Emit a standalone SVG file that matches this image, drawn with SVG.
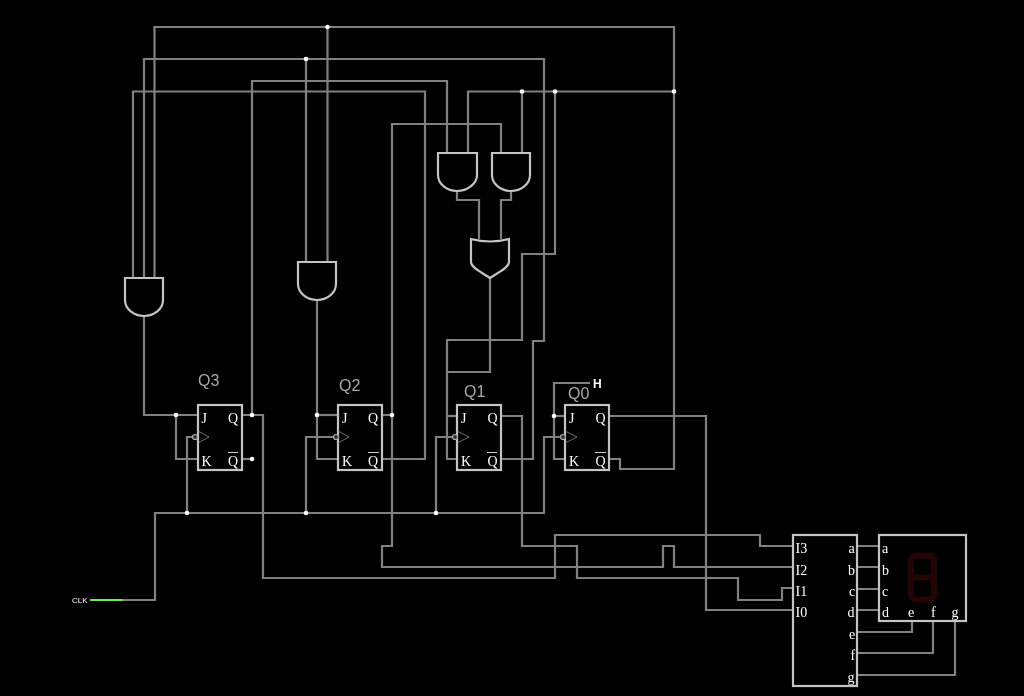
<svg xmlns="http://www.w3.org/2000/svg" width="1024" height="696" viewBox="0 0 1024 696">
<defs><filter id="n" filterUnits="userSpaceOnUse" x="0" y="0" width="1024" height="696" color-interpolation-filters="sRGB"><feOffset dx="0" dy="0"/></filter></defs>
<style>
.w{fill:none;stroke:#808080;stroke-width:2.2}
.b{fill:none;stroke:#c4c4c4;stroke-width:2.2}
.clk{fill:none;stroke:#8a8a8a;stroke-width:.8}
.bub{fill:#333;stroke:#a8a8a8;stroke-width:1.2}
.bar{fill:none;stroke:#d0d0d0;stroke-width:1}
.d{fill:#fff}
.t{font-family:"Liberation Serif",serif;font-size:14px;fill:#fff}
.l{font-family:"Liberation Sans",sans-serif;font-size:16px;fill:#a8a8a8}
.s{font-family:"Liberation Sans",sans-serif;fill:#fff}
.f{filter:url(#n)}
.seg{fill:none;stroke:#240505;stroke-width:6;stroke-linejoin:round}
</style>
<rect width="1024" height="696" fill="#000"/>
<g id="connectors">
<path class="w" d="M154.500 277V27H674V469H620V459H609"/>
<path class="w" d="M327.500 262V27"/>
<path class="w" d="M144 277V59H544V341H533V459H501"/>
<path class="w" d="M306 262V59"/>
<path class="w" d="M241 415H263V578H555V535H760V546H793"/>
<path class="w" d="M252 415V81H447V153"/>
<path class="w" d="M241 459H252"/>
<path class="w" d="M133 277V91.500H425V459H382"/>
<path class="w" d="M468 153V91.500H674"/>
<path class="w" d="M522 153V91.500"/>
<path class="w" d="M555 91.500V254H522V340H447V459H457"/>
<path class="w" d="M447 416H457"/>
<path class="w" d="M490 278V372H447"/>
<path class="w" d="M382 415H392V546H382V567H663V546H674V567H793"/>
<path class="w" d="M392 415V124H501V153"/>
<path class="w" d="M501 416H522V546H577V578H738V600H782V588H793"/>
<path class="w" d="M609 416H706V610H793"/>
<path class="w" d="M123 600H155V513H544V437H563"/>
<path class="w" d="M187 513V437H193"/>
<path class="w" d="M306 513V437H334"/>
<path class="w" d="M436 513V437H453"/>
<path class="w" d="M144 316V415H197"/>
<path class="w" d="M176 415V459H197"/>
<path class="w" d="M317 300V459H338"/>
<path class="w" d="M317 415H338"/>
<path class="w" d="M590 383H554V459H565"/>
<path class="w" d="M554 416H565"/>
<path class="w" d="M457 191V200H479V239"/>
<path class="w" d="M511 191V200H501V239"/>
<path class="w" d="M857 546H879M857 567H879M857 589H879M857 610H879"/>
<path class="w" d="M857 632H912V621M857 653H933V621M857 675H955V621"/>
<path d="M90 600H123" fill="none" stroke="#66ee44" stroke-width="2.200"/>
<g class="d">
<circle cx="327.500" cy="27" r="2.300"/><circle cx="306" cy="59" r="2.300"/><circle cx="522" cy="91.500" r="2.300"/><circle cx="555" cy="91.500" r="2.300"/><circle cx="674" cy="91.500" r="2.300"/>
<circle cx="176" cy="415" r="2.300"/><circle cx="252" cy="415" r="2.300"/><circle cx="252" cy="459" r="2.300"/><circle cx="317" cy="415" r="2.300"/><circle cx="392" cy="415" r="2.300"/><circle cx="554" cy="416" r="2.300"/>
<circle cx="187" cy="513" r="2.300"/><circle cx="306" cy="513" r="2.300"/><circle cx="436" cy="513" r="2.300"/>
</g>
</g>
<g id="and3"><path class="b" d="M125 278H163V300C163 309 154 316 144 316C134 316 125 309 125 300Z"/></g>
<g id="and2"><path class="b" d="M298 262H336V284C336 293 327 300 317 300C307 300 298 293 298 284Z"/></g>
<g id="and1a"><path class="b" d="M438 153H477V175C477 184 467 191 457 191C447 191 438 184 438 175Z"/></g>
<g id="and1b"><path class="b" d="M492 153H530V175C530 184 521 191 511 191C501 191 492 184 492 175Z"/></g>
<g id="or1"><path class="b" d="M471 239Q490 244 509 239V262C509 268 497 273 490 278C483 273 471 268 471 262Z"/></g>
<g id="ff3" class="f">
<rect class="b" x="198" y="405" width="44" height="65"/>
<path class="clk" d="M198 431L209 437L198 443"/><circle class="bub" cx="195" cy="437" r="2.500"/>
<text class="t" x="201.500" y="423">J</text><text class="t" x="228" y="423">Q</text><text class="t" x="201.500" y="466">K</text><text class="t" x="228" y="466">Q</text>
<path class="bar" d="M228 452.500H238"/>
<text class="l" x="198" y="386">Q3</text>
</g>
<g id="ff2" class="f">
<rect class="b" x="338" y="405" width="44" height="65"/>
<path class="clk" d="M338 431L349 437L338 443"/><circle class="bub" cx="336" cy="437" r="2.500"/>
<text class="t" x="342" y="423">J</text><text class="t" x="368" y="423">Q</text><text class="t" x="342" y="466">K</text><text class="t" x="368" y="466">Q</text>
<path class="bar" d="M368 452.500H379"/>
<text class="l" x="339" y="391">Q2</text>
</g>
<g id="ff1" class="f">
<rect class="b" x="457" y="405" width="44" height="65"/>
<path class="clk" d="M457 431L469 437L457 443"/><circle class="bub" cx="455" cy="437" r="2.500"/>
<text class="t" x="461" y="423">J</text><text class="t" x="487.500" y="423">Q</text><text class="t" x="461" y="466">K</text><text class="t" x="487.500" y="466">Q</text>
<path class="bar" d="M487 452.500H497"/>
<text class="l" x="464" y="397">Q1</text>
</g>
<g id="ff0" class="f">
<rect class="b" x="565" y="405" width="44" height="65"/>
<path class="clk" d="M565 431L577 437L565 443"/><circle class="bub" cx="563" cy="437" r="2.500"/>
<text class="t" x="569" y="423">J</text><text class="t" x="595.500" y="423">Q</text><text class="t" x="569" y="466">K</text><text class="t" x="595.500" y="466">Q</text>
<path class="bar" d="M595 452.500H606"/>
<text class="l" x="568" y="399">Q0</text>
</g>
<g id="h" class="f"><text class="s" x="593" y="388" font-size="12" font-weight="bold">H</text></g>
<g id="clk" class="f"><text class="s" x="72" y="603" font-size="8">CLK</text></g>
<g id="decoder" class="f">
<rect class="b" x="793" y="535" width="64" height="151"/>
<text class="t" x="795.500" y="553">I3</text><text class="t" x="795.500" y="575">I2</text><text class="t" x="795.500" y="596">I1</text><text class="t" x="795.500" y="617">I0</text>
<text class="t" x="848.500" y="553">a</text><text class="t" x="848" y="575">b</text><text class="t" x="849" y="596">c</text><text class="t" x="847.500" y="617">d</text><text class="t" x="849" y="639">e</text><text class="t" x="850.500" y="660">f</text><text class="t" x="847.500" y="682">g</text>
</g>
<g id="display" class="f">
<rect class="b" x="879" y="535" width="87" height="86"/>
<text class="t" x="882" y="553">a</text><text class="t" x="882" y="575">b</text><text class="t" x="882" y="596">c</text><text class="t" x="882" y="617">d</text><text class="t" x="908" y="617">e</text><text class="t" x="931" y="617">f</text><text class="t" x="951.500" y="617">g</text>
<path class="seg" d="M914 555.800H931L934 558.800V596.500L931 599.500H914L911 596.500V558.800ZM911 577.500H934"/>
</g>
</svg>
